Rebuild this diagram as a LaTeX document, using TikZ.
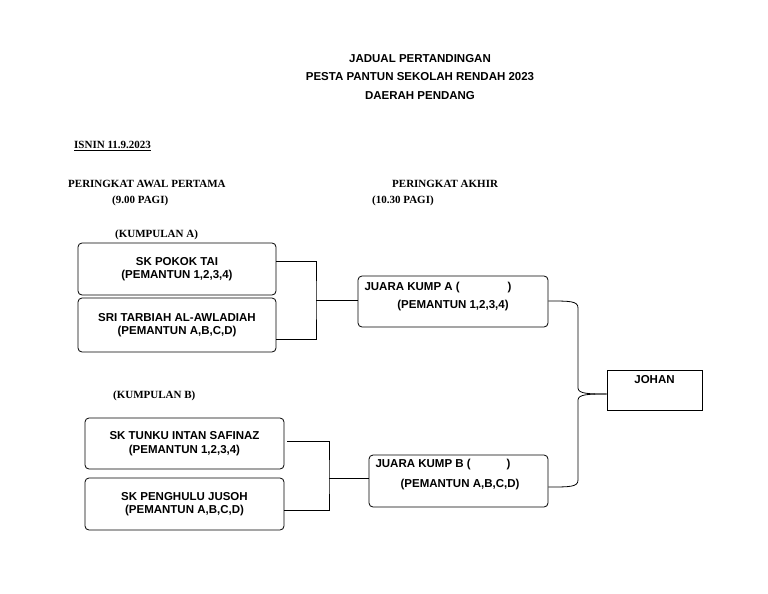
\documentclass[tikz,border=0pt]{standalone}
\usepackage{fontspec}
\setmainfont{Liberation Serif}
\newfontfamily\sansb{Liberation Sans}[BoldFont={* Bold}]
\begin{document}
\begin{tikzpicture}[x=1pt,y=-1pt,
  box/.style={draw,rounded corners=4pt,line width=0.8pt,font=\sansb\bfseries\fontsize{11.5}{13.5}\selectfont,align=center,inner sep=0pt},
  sq/.style={draw,line width=0.8pt,font=\sansb\bfseries\fontsize{11.5}{13.5}\selectfont,inner sep=0pt},
  ttl/.style={font=\sansb\bfseries\fontsize{11.5}{13.5}\selectfont},
  ser/.style={font=\bfseries\fontsize{11}{13}\selectfont,anchor=west,inner sep=0pt},
  ln/.style={line width=0.8pt}]
\useasboundingbox (0,0) rectangle (768,594);
\node[ttl] (t1) at (420,59) {JADUAL PERTANDINGAN};
\node[ttl] (t2) at (420,77) {PESTA PANTUN SEKOLAH RENDAH 2023};
\node[ttl] (t3) at (420,96) {DAERAH PENDANG};
\node[ser] (d) at (74,146) {\underline{ISNIN 11.9.2023}};
\node[ser] (p1) at (68,184) {PERINGKAT AWAL PERTAMA};
\node[ser] (p1t) at (112,201) {(9.00 PAGI)};
\node[ser] (p2) at (392,184) {PERINGKAT AKHIR};
\node[ser] (p2t) at (372,201) {(10.30 PAGI)};
\node[ser] (ka) at (115,235) {(KUMPULAN A)};
\node[ser] (kb) at (113,396) {(KUMPULAN B)};

\node[box,minimum width=198pt,minimum height=52pt] (a1) at (177,269) {SK POKOK TAI\\(PEMANTUN 1,2,3,4)};
\node[box,minimum width=198pt,minimum height=54pt] (a2) at (177,325) {SRI TARBIAH AL-AWLADIAH\\(PEMANTUN A,B,C,D)};
\node[box,minimum width=199pt,minimum height=51pt] (b1) at (184.5,443.5) {SK TUNKU INTAN SAFINAZ\\(PEMANTUN 1,2,3,4)};
\node[box,minimum width=199pt,minimum height=52pt] (b2) at (184.5,504) {SK PENGHULU JUSOH\\(PEMANTUN A,B,C,D)};
\node[box,minimum width=190pt,minimum height=51pt] (ja) at (453,301.5) {};
\node[ttl,anchor=west] (jat) at (361,288) {JUARA KUMP A (\hspace{48pt})};
\node[ttl] (jat2) at (453,306) {(PEMANTUN 1,2,3,4)};
\node[box,minimum width=179pt,minimum height=52pt] (jb) at (458.5,481) {};
\node[ttl,anchor=west] (jbt) at (372,465) {JUARA KUMP B (\hspace{36pt})};
\node[ttl] (jbt2) at (460,485) {(PEMANTUN A,B,C,D)};
\node[sq,minimum width=95pt,minimum height=40pt] (jo) at (654.5,390) {};
\node[ttl] (jot) at (654.5,380) {JOHAN};

\coordinate (m1) at (316,300);
\coordinate (m2) at (329,478);
\draw[ln] (a1.east |- 0,261) -| (m1) |- (a2.east |- 0,339);
\draw[ln] (m1) -- (ja.west |- m1);
\draw[ln] (287,441) -| (m2) |- (b2.east |- 0,510);
\draw[ln] (m2) -- (jb.west |- m2);
\draw[ln] (ja.east |- 0,301) .. controls (570,301) and (578,301) .. (578,308) -- (578,388)
  .. controls (578,394) and (590,394) .. (jo.west |- 0,394);
\draw[ln] (jb.east |- 0,487) .. controls (570,487) and (578,487) .. (578,480) -- (578,400)
  .. controls (578,394) and (590,394) .. (jo.west |- 0,394);
\end{tikzpicture}
\end{document}
